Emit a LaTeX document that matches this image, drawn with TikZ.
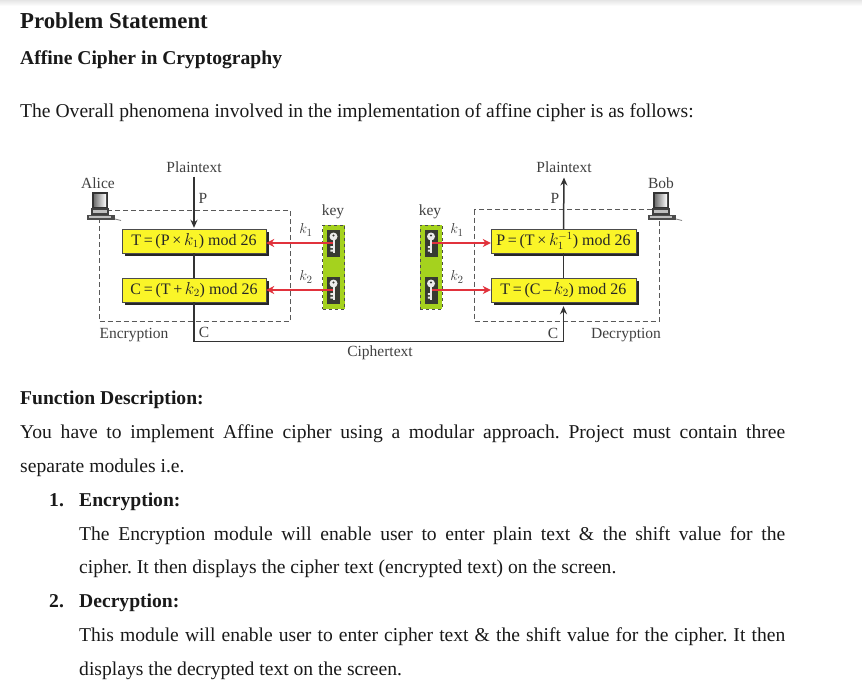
\documentclass[tikz,border=0pt]{standalone}
\usepackage{fontspec}
\setmainfont{Liberation Serif}
\usetikzlibrary{arrows.meta,shadows}
\definecolor{boxyellow}{RGB}{250,245,40}
\definecolor{keygreen}{RGB}{165,210,30}
\definecolor{keydark}{RGB}{55,58,50}
\definecolor{arrowred}{RGB}{225,50,60}
\frenchspacing
\tikzset{
  pageline/.style={anchor=base west,inner sep=0pt,font=\fontsize{19.6}{23}\selectfont,text=black!90},
  pagehead/.style={pageline,font=\bfseries\fontsize{19.6}{23}\selectfont},
  figlabel/.style={inner sep=0pt,font=\fontsize{15.5}{18}\selectfont,text=black!75},
  cipherbox/.style={draw=black!70,fill=boxyellow,minimum height=24pt,inner sep=0pt,
    font=\fontsize{16}{18}\selectfont,text=black!85,
    drop shadow={shadow xshift=3pt,shadow yshift=-3pt,fill=black!85,opacity=1}},
  keypanel/.style={draw=black!70,dashed,line width=0.9pt,fill=keygreen,minimum width=22pt,minimum height=84pt,inner sep=0pt},
  keyslot/.style={fill=keydark,minimum width=13pt,minimum height=27pt,inner sep=0pt},
  mainline/.style={draw=black!80,line width=1.5pt},
  flowarrow/.style={mainline,-{Stealth[length=8pt,width=7pt]},shorten >=1pt},
  keyarrow/.style={draw=arrowred,line width=1.5pt,-{Stealth[length=8pt,width=8pt]}},
  dashbox/.style={draw=black!65,line width=0.9pt,dash pattern=on 5pt off 3pt},
  laptop/.pic={
    \fill[black!80] (-8,-17) rectangle (8,-1);
    \shade[left color=black!55,right color=white] (-6,-15) rectangle (6,-3);
    \fill[black!75] (-9,-1) rectangle (9,6);
    \fill[black!25] (-7,0.5) rectangle (7,4);
    \fill[black!70] (-13,6) -- (15,6) -- (15,11) -- (-13,11) -- cycle;
    \fill[black!25] (-11,7) rectangle (11,8.5);
    \draw[black!50,line width=0.8pt] (15,10) -- (21,11.5);
  },
  keyglyph/.pic={
    \fill[black!8] (0,-6.5) circle (4);
    \fill[keydark] (0,-7.5) circle (1.2);
    \fill[black!8] (-1,-3) rectangle (1.2,10);
    \fill[black!8] (-3.2,3) rectangle (0,5) (-3.2,6.5) rectangle (0,8.5);
  }
}
\begin{document}
\begin{tikzpicture}[x=1pt,y=-1pt]
\useasboundingbox (0,0) rectangle (862,688);
\fill[white] (0,0) rectangle (862,688);
\shade[top color=black!10,bottom color=white] (0,0) rectangle (862,6);
% Page text
\node[pageline,font=\bfseries\fontsize{22.8}{26}\selectfont] (title) at (20,28) {Problem Statement};
\node[pagehead] (subtitle) at (20,64.5) {Affine Cipher in Cryptography};
\node[pageline] (intro) at (20,117) {The Overall phenomena involved in the implementation of affine cipher is as follows:};
\node[pagehead] (funchead) at (20,404) {Function Description:};
\node[pageline] (funcA) at (20,438) {\makebox[765pt][s]{You have to implement Affine cipher using a modular approach. Project must contain three}};
\node[pageline] (funcB) at (20,472) {separate modules i.e.};
\node[pagehead] (itemA) at (49,506) {1.};
\node[pagehead] (itemAh) at (79,506) {Encryption:};
\node[pageline] (itemAa) at (79,540) {\makebox[706pt][s]{The Encryption module will enable user to enter plain text \& the shift value for the}};
\node[pageline] (itemAb) at (79,573) {cipher. It then displays the cipher text (encrypted text) on the screen.};
\node[pagehead] (itemB) at (49,607) {2.};
\node[pagehead] (itemBh) at (79,607) {Decryption:};
\node[pageline] (itemBa) at (79,641) {\makebox[706pt][s]{This module will enable user to enter cipher text \& the shift value for the cipher. It then}};
\node[pageline] (itemBb) at (79,675) {displays the decrypted text on the screen.};
% Dashed module frames
\draw[dashbox] (99,210) rectangle (290,321.5);
\draw[dashbox] (474,209.5) rectangle (659.5,321);
% Laptops
\pic at (100,209) {laptop};
\pic at (661,209) {laptop};
% Cipher boxes
\node[cipherbox,minimum width=144pt] (encT) at (194,241) {T\,=\,(P\,×\,$k_1$) mod 26};
\node[cipherbox,minimum width=144pt] (encC) at (194,290) {C\,=\,(T\,+\,$k_2$) mod 26};
\node[cipherbox,minimum width=145pt] (decP) at (563.5,241) {P\,=\,(T\,×\,$k_1^{-1}$) mod 26};
\node[cipherbox,minimum width=145pt] (decT) at (563.5,290) {T\,=\,(C\,–\,$k_2$) mod 26};
% Key panels
\node[keypanel] (panelL) at (333.5,267) {};
\node[keypanel] (panelR) at (431,267) {};
\node[keyslot] (keyLa) at (333.5,243) {};
\node[keyslot] (keyLb) at (333.5,290) {};
\node[keyslot] (keyRa) at (431,243) {};
\node[keyslot] (keyRb) at (431,290) {};
% Labels
\node[figlabel] (plainL) at (194,167) {Plaintext};
\node[figlabel] (plainR) at (564,167) {Plaintext};
\node[figlabel] (alice) at (98,183.5) {Alice};
\node[figlabel] (bob) at (661,183) {Bob};
\node[figlabel] (labPL) at (203,198) {P};
\node[figlabel] (labPR) at (555,198) {P};
\node[figlabel] (labCL) at (204,332) {C};
\node[figlabel] (labCR) at (553,333) {C};
\node[figlabel] (keyLabL) at (333,212) {key};
\node[figlabel] (keyLabR) at (430,212) {key};
\node[figlabel] (k1L) at (306,230) {$k_1$};
\node[figlabel] (k2L) at (306,277) {$k_2$};
\node[figlabel] (k1R) at (457,230) {$k_1$};
\node[figlabel] (k2R) at (457,277) {$k_2$};
\node[figlabel] (encLab) at (134,335) {Encryption};
\node[figlabel] (decLab) at (626,335) {Decryption};
\node[figlabel] (cipherLab) at (380,353) {Ciphertext};
% Key arrows
\draw[keyarrow] (keyLa.center) -- (keyLa.center -| encT.east);
\draw[keyarrow] (keyLb.center) -- (keyLb.center -| encC.east);
\draw[keyarrow] (keyRa.center) -- (keyRa.center -| decP.west);
\draw[keyarrow] (keyRb.center) -- (keyRb.center -| decT.west);
% Flow lines
\coordinate (startL) at (194,176.5);
\coordinate (endR) at (564,176.5);
\coordinate (bendL) at (194,341.5);
\coordinate (bendR) at (563.5,341.5);
\draw[flowarrow] (startL) -- (encT.north);
\draw[mainline] (encT.south) -- (encC.north);
\draw[mainline] (encC.south) -- (bendL) -- (bendR);
\draw[flowarrow,shorten >=4pt] (bendR) -- (decT.south);
\draw[mainline] (decT.north) -- (decP.south);
\draw[flowarrow] (decP.north) -- (endR);
% Keys on top of the arrows
\foreach \keyname in {keyLa,keyLb,keyRa,keyRb}
  \pic at (\keyname) {keyglyph};
\end{tikzpicture}
\end{document}
